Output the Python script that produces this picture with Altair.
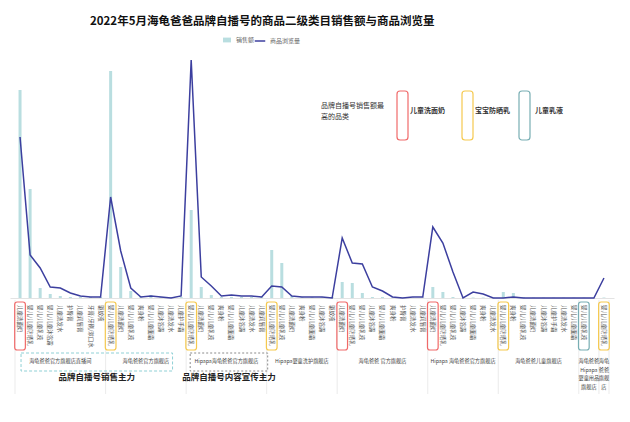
import altair as alt
import pandas as pd

FONT = "Noto Sans CJK SC"

title = "2022年5月海龟爸爸品牌自播号的商品二级类目销售额与商品浏览量"

stores = ["海龟爸爸官方旗舰店直播间", "海龟爸爸官方旗舰店", "Hipapa海龟爸爸官方旗舰店",
          "Hipapa婴童洗护旗舰店", "海龟爸爸 官方旗舰店", "Hipapa 海龟爸爸官方旗舰店",
          "海龟爸爸儿童旗舰店", "海龟爸爸Hipapa婴童用品旗舰店", "海龟爸爸旗舰店"]
store_labels = ["海龟爸爸官方旗舰店直播间", "海龟爸爸官方旗舰店", "Hipapa海龟爸爸官方旗舰店",
                "Hipapa婴童洗护旗舰店", "海龟爸爸 官方旗舰店", "Hipapa 海龟爸爸官方旗舰店",
                "海龟爸爸儿童旗舰店", "海龟爸爸\nHipapa\n婴童用品\n旗舰店", "海龟\n爸爸\n旗舰\n店"]
store_sizes = [9, 8, 8, 7, 9, 7, 8, 2, 1]

categories = [
    "儿童洗面奶", "婴儿/儿童防晒乳", "婴儿/儿童乳液", "婴儿/儿童沐浴露", "儿童洗发水", "护臀膏", "儿童润唇膏", "牙膏/牙刷/漱口水", "驱蚊液",
    "婴儿/儿童防晒乳", "儿童洗面奶", "婴儿/儿童乳液", "爽身粉", "婴儿/儿童面霜", "儿童沐浴露", "儿童洗发水", "儿童护手霜",
    "婴儿/儿童防晒乳", "儿童洗面奶", "婴儿/儿童乳液", "爽身粉", "婴儿/儿童面霜", "儿童沐浴露", "儿童洗发水", "儿童润唇膏",
    "婴儿/儿童防晒乳", "婴儿/儿童乳液", "儿童洗面奶", "爽身粉", "婴儿/儿童面霜", "儿童沐浴露", "驱蚊液",
    "儿童洗面奶", "婴儿/儿童防晒乳", "婴儿/儿童乳液", "儿童沐浴露", "婴儿/儿童面霜", "爽身粉", "护臀膏", "儿童洗发水", "儿童润唇膏",
    "儿童洗面奶", "婴儿/儿童防晒乳", "婴儿/儿童乳液", "儿童沐浴露", "婴儿/儿童面霜", "爽身粉", "儿童洗发水",
    "婴儿/儿童防晒乳", "爽身粉", "婴儿/儿童乳液", "儿童洗面奶", "儿童沐浴露", "儿童护手霜", "儿童洗发水", "婴儿/儿童面霜",
    "婴儿/儿童乳液", "",
    "婴儿/儿童防晒乳",
]

sales = [
    208, 109, 10, 4, 2, 1, 1, 1, 1,
    227, 31, 7, 2, 3, 1, 1, 1,
    88, 11, 3, 1, 1, 1, 1, 1,
    48, 35, 2, 1, 1, 1, 1,
    16, 15, 5, 1, 1, 0.5, 0.5, 0.5, 0.5,
    11, 6, 1, 0.5, 0.5, 0.5, 0.5,
    6, 5, 1, 0.5, 0.5, 0.5, 0.5, 0.5,
    0.5, 0,
    0.5,
]

views = [
    161, 43, 30, 11, 10, 5, 2, 1, 1,
    101, 47, 10, 1, 2, 1, 0, 2,
    238, 21, 12, 2, 3, 2, 2, 1,
    12, 11, 2, 1, 1, 1, 0,
    60, 35, 34, 11, 7, 1, 0, 1, 1,
    71, 55, 26, 0, 6, 4, 0,
    0, 1, 0, 0, 0, 0, 0, 0,
    0, 0,
    20,
]

highlight_names = ["儿童洗面奶", "婴儿/儿童防晒乳", "婴儿/儿童乳液"]
highlight_legend = ["儿童洗面奶", "宝宝防晒乳", "儿童乳液"]
highlight_colors = ["#f06a6a", "#f5c94f", "#78aeb3"]

note_text = "品牌自播号销售额最\n高的品类"
captions = ["品牌自播号销售主力", "品牌自播号内容宣传主力"]

# ---------- tables ----------
store_col = []
for s, n in zip(stores, store_sizes):
    store_col += [s] * n
df = pd.DataFrame({
    "idx": list(range(len(categories))),
    "store": store_col,
    "category": categories,
    "销售额": sales,
    "商品浏览量": views,
})

hl = df.loc[df.groupby("store", sort=False)["销售额"].idxmax()].copy()

starts, ends = [], []
pos = 0
for n in store_sizes:
    starts.append(pos)
    ends.append(pos + n - 1)
    pos += n
grp = pd.DataFrame({
    "label": store_labels,
    "center": [(a + b) / 2 for a, b in zip(starts, ends)],
})
bounds = pd.DataFrame({"b": [s - 0.5 for s in starts] + [ends[-1] + 0.5]})

xs = alt.Scale(domain=[-0.5, len(categories) - 0.5], nice=False, zero=False)
ys = alt.Scale(domain=[0, 243])

base = alt.Chart(df)

bars = base.transform_calculate(s1="'销售额'").mark_bar(size=3).encode(
    x=alt.X("idx:Q", scale=xs, axis=alt.Axis(labels=False, ticks=False, grid=False, title=None,
                                             domainColor="#e3e3e3", domainWidth=1)),
    y=alt.Y("销售额:Q", scale=ys, axis=None),
    color=alt.Color("s1:N", scale=alt.Scale(domain=["销售额"], range=["#b9dee0"]),
                    legend=alt.Legend(title=None, orient="none", legendX=212, legendY=-20,
                                      symbolType="M-1,-0.6H1V0.6H-1Z", symbolSize=64,
                                      labelFont=FONT, labelFontSize=6, labelColor="#666",
                                      padding=0)),
)

line = base.transform_calculate(s2="'商品浏览量'").mark_line(strokeWidth=1.5).encode(
    x=alt.X("idx:Q", scale=xs),
    y=alt.Y("商品浏览量:Q", scale=ys, axis=None),
    stroke=alt.Stroke("s2:N", scale=alt.Scale(domain=["商品浏览量"], range=["#3c3f9f"]),
                      legend=alt.Legend(title=None, orient="none", legendX=244, legendY=-20,
                                        symbolType="stroke", symbolSize=110, symbolStrokeWidth=1.5,
                                        labelFont=FONT, labelFontSize=6, labelColor="#666",
                                        padding=0)),
)

ticklabels = base.mark_text(angle=90, align="left", baseline="middle", fontSize=5.5,
                            font=FONT, color="#555").encode(
    x=alt.X("idx:Q", scale=xs),
    y=alt.value(250),
    text="category:N",
)

hl_layers = []
for name, col in zip(highlight_names, highlight_colors):
    hl_layers.append(
        alt.Chart(hl).transform_filter(alt.datum.category == name)
        .transform_calculate(x1="datum.idx - 0.53", x2="datum.idx + 0.53")
        .mark_rect(fillOpacity=0, stroke=col, strokeWidth=1.2, cornerRadius=2.5)
        .encode(x=alt.X("x1:Q", scale=xs), x2="x2:Q", y=alt.value(247), y2=alt.value(295))
    )

dividers = alt.Chart(bounds).mark_rule(color="#e6e6e6", strokeWidth=0.8).encode(
    x=alt.X("b:Q", scale=xs), y=alt.value(245), y2=alt.value(339),
)

grp_text = alt.Chart(grp).mark_text(fontSize=5.2, font=FONT, color="#444", baseline="top",
                                    lineBreak="\n", lineHeight=8.7).encode(
    x=alt.X("center:Q", scale=xs), y=alt.value(304), text="label:N",
)

box_df = pd.DataFrame({"x1": [starts[0] + 0.1, starts[2] - 0.1],
                       "x2": [ends[1] - 0.85, ends[2] + 0.6],
                       "caption": captions,
                       "kind": ["sales", "content"]})
box_df["cx"] = (box_df["x1"] + box_df["x2"]) / 2

box1 = alt.Chart(box_df).transform_filter(alt.datum.kind == "sales").mark_rect(
    fillOpacity=0, stroke="#8fd0d5", strokeWidth=1, strokeDash=[3, 2]).encode(
    x=alt.X("x1:Q", scale=xs), x2="x2:Q", y=alt.value(298), y2=alt.value(316))
box2 = alt.Chart(box_df).transform_filter(alt.datum.kind == "content").mark_rect(
    fillOpacity=0, stroke="#8a8a8a", strokeWidth=1, strokeDash=[2, 2]).encode(
    x=alt.X("x1:Q", scale=xs), x2="x2:Q", y=alt.value(298), y2=alt.value(316))
cap = alt.Chart(box_df).mark_text(fontSize=8.5, fontWeight="bold", font=FONT, color="#222",
                                  baseline="middle").encode(
    x=alt.X("cx:Q", scale=xs), y=alt.value(322), text="caption:N")

# annotation (legend of highlighted categories)
note = alt.Chart(pd.DataFrame({"t": [note_text]})).mark_text(
    fontSize=7, font=FONT, color="#333", align="left", baseline="top",
    lineBreak="\n", lineHeight=11).encode(x=alt.value(311), y=alt.value(47), text="t:N")

ann_layers = []
rect_x = [387, 452, 509]
text_x = [400, 465, 525]
for lab, col, rx, tx in zip(highlight_legend, highlight_colors, rect_x, text_x):
    d = pd.DataFrame({"t": [lab]})
    ann_layers.append(alt.Chart(d).mark_rect(fillOpacity=0, stroke=col, strokeWidth=1.2,
                                            cornerRadius=3).encode(
        x=alt.value(rx), x2=alt.value(rx + 11), y=alt.value(36), y2=alt.value(85)))
    ann_layers.append(alt.Chart(d).mark_text(fontSize=7, fontWeight="bold", font=FONT,
                                            color="#333", align="left", baseline="middle").encode(
        x=alt.value(tx), y=alt.value(56), text="t:N"))

chart = alt.layer(
    dividers, bars, line, ticklabels, *hl_layers, grp_text, box1, box2, cap, note, *ann_layers
).properties(
    width=604, height=243,
    title=alt.TitleParams(text=title, font=FONT, fontSize=11.5, fontWeight="bold", color="#111",
                          anchor="start", dx=80, offset=8, frame="group"),
    autosize=alt.AutoSizeParams(type="none"),
    padding={"left": 2, "top": 47, "right": 8, "bottom": 110},
    background="white",
).configure_view(strokeWidth=0, stroke=None)

chart.save("out.html", embed_options={"renderer": "svg", "actions": False})
